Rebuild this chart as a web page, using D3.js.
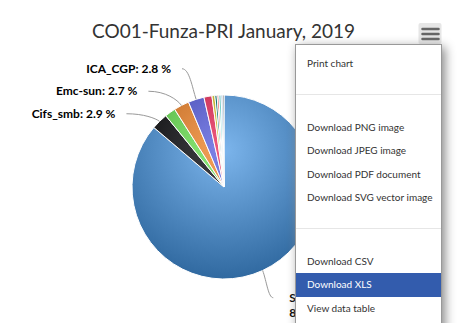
<!DOCTYPE html>
<html><head><meta charset="utf-8">
<script src="https://cdn.jsdelivr.net/npm/d3@7"></script>
<style>
html,body{margin:0;padding:0;background:#fff;}
#wrap{position:relative;width:474px;height:323px;overflow:hidden;font-family:Lato,"Open Sans",sans-serif;}
svg{position:absolute;left:0;top:0;}
</style></head>
<body><div id="wrap"></div>
<script>
// ---- data ----
const title = "CO01-Funza-PRI January, 2019";
const names = ["Sin_identificar", "Cifs_smb", "Dns", "Emc-sun", "ICA_CGP", "Http", "Https", "Ftp", "Ssh", "Smtp", "Snmp", "Otros"];
const values = [86.2, 2.9, 1.9, 2.7, 2.8, 1.4, 0.5, 0.4, 0.3, 0.4, 0.3, 0.2];
const labelled = ["Sin_identificar", "Cifs_smb", "Emc-sun", "ICA_CGP"];
const palette = ["#7cb5ec", "#434348", "#90ed7d", "#f7a35c", "#8085e9", "#f15c80", "#e4d354", "#2b908f", "#f45b5b", "#91e8e1"];
const menuItems = ["Print chart", "|", "Download PNG image", "Download JPEG image", "Download PDF document", "Download SVG vector image", "|", "Download CSV", "Download XLS", "View data table"];
const highlighted = "Download XLS";

// ---- layout ----
const W = 474, H = 323;
const cx = 224, cy = 187, R = 92, dist = 30;

const wrap = d3.select("#wrap");
const svg = wrap.append("svg").attr("width", W).attr("height", H);

// darken like Highcharts brighten(-0.3)
function darken(hex){
  const c = d3.rgb(hex);
  const k = Math.round(-0.3*255);
  return d3.rgb(Math.max(0,Math.min(255,c.r+k)), Math.max(0,Math.min(255,c.g+k)), Math.max(0,Math.min(255,c.b+k))).formatHex();
}
const defs = svg.append("defs");
palette.forEach((col,i)=>{
  const g = defs.append("radialGradient").attr("id","g"+i)
    .attr("gradientUnits","userSpaceOnUse")
    .attr("cx", 0).attr("cy", -R + 0.3*2*R).attr("r", 0.7*2*R);
  g.append("stop").attr("offset",0).attr("stop-color",col);
  g.append("stop").attr("offset",1).attr("stop-color",darken(col));
});

// title
svg.append("text").attr("x", 223.5).attr("y", 38).attr("text-anchor","middle")
  .attr("font-size", 19).attr("fill","#333").attr("font-family","Lato, 'Open Sans', sans-serif")
  .text(title);

// pie
const total = d3.sum(values);
const pie = d3.pie().sort(null).value(d=>d.v);
const data = names.map((n,i)=>({name:n, v:values[i], i}));
const arcs = pie(data);
const arc = d3.arc().innerRadius(0).outerRadius(R);
const g = svg.append("g").attr("transform",`translate(${cx},${cy})`);
g.selectAll("path").data(arcs).enter().append("path")
  .attr("d", arc)
  .attr("fill", d=>`url(#g${d.data.i % palette.length})`)
  .attr("stroke","#fff").attr("stroke-width",1).attr("stroke-linejoin","round");

// data labels
const lab = arcs.filter(a=>labelled.includes(a.data.name)).map(a=>{
  const mid = (a.startAngle + a.endAngle)/2;
  return {a, mid, right: Math.sin(mid) > 0,
    tx: Math.sin(mid)*R, ty: -Math.cos(mid)*R,
    y: -Math.cos(mid)*(R+dist)};
});
// distribute left-side labels top-down with a minimum spacing
const left = lab.filter(l=>!l.right).sort((p,q)=>p.y-q.y);
const gap = 22.5;
for (let k=1;k<left.length;k++){ if (left[k].y < left[k-1].y + gap) left[k].y = left[k-1].y + gap; }
left.forEach(l=>l.y -= 2);
lab.forEach(l=>{
  const dy = Math.max(-(R+dist), Math.min(R+dist, l.y));
  const dx = Math.max(42, Math.sqrt((R+dist)*(R+dist) - dy*dy));
  l.x = l.right ? dx : -dx;
});
const lg = svg.append("g").attr("transform",`translate(${cx},${cy})`);
lab.forEach(l=>{
  const sgn = l.right ? 1 : -1;
  const sx = l.right ? l.x - 2 : l.x;
  const bx = l.tx + sgn*Math.abs(l.x - l.tx)*0.35;
  lg.append("path")
    .attr("d", `M${sx},${l.y} C${sx + (bx - sx)*0.8},${l.y} ${l.tx + sgn*4},${l.ty + (l.y - l.ty)*0.4} ${l.tx},${l.ty}`)
    .attr("fill","none").attr("stroke","#999").attr("stroke-width",1);
  const pct = (l.a.data.v/total*100).toFixed(1) + " %";
  const t = lg.append("text").attr("font-size",12).attr("font-weight","bold").attr("fill","#000")
    .attr("font-family","Lato, 'Open Sans', sans-serif");
  if (l.right){
    t.attr("text-anchor","start");
    t.append("tspan").attr("x", l.x + 14).attr("y", l.y + 4).text(l.a.data.name + ":");
    t.append("tspan").attr("x", l.x + 14).attr("y", l.y + 19).text(pct);
  } else {
    t.attr("text-anchor","end").attr("x", l.x - 11).attr("y", l.y + 4)
      .text(l.a.data.name + ": " + pct);
  }
});

// export button
const btn = svg.append("g");
btn.append("rect").attr("x",418.5).attr("y",23).attr("width",23).attr("height",21).attr("rx",2).attr("fill","#e6e6e6");
[29,34,39].forEach(y=>btn.append("line").attr("x1",422.5).attr("x2",438.5).attr("y1",y).attr("y2",y)
  .attr("stroke","#666").attr("stroke-width",2.5).attr("stroke-linecap","round"));

// export menu
const menu = wrap.append("div").style("position","absolute").style("left","295px").style("top","44px")
  .style("width","145px").style("height","300px").style("background","#fff")
  .style("border","1px solid #999").style("box-shadow","3px 3px 10px #888")
  .style("font-family","Lato, 'Open Sans', sans-serif");
let y = 7;
menuItems.forEach(it=>{
  if (it === "|"){
    y += 18.5;
    menu.append("div").style("position","absolute").style("left","0").style("top",y+"px")
      .style("width","145px").style("height","1px").style("background","#e6e6e6");
    y += 21.5;
    return;
  }
  const hl = it === highlighted;
  menu.append("div").style("position","absolute").style("left","0").style("top",y+"px")
    .style("width","145px").style("height","23.5px").style("line-height","23.5px")
    .style("padding-left","11px").style("box-sizing","border-box").style("white-space","nowrap")
    .style("font-size","10px").style("color", hl ? "#fff" : "#333")
    .style("background", hl ? "#335cad" : "transparent").text(it);
  y += 23.5;
});
</script></body></html>
